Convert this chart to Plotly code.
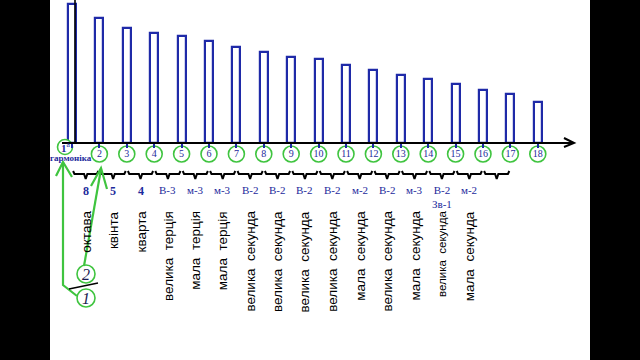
import plotly.graph_objects as go

# ---------------- data ----------------
harmonics = list(range(1, 19))
amplitudes = [139, 125, 115, 110, 107, 102, 96, 91, 86, 84, 78, 73, 68, 64, 59, 53, 49, 41]
circle_labels = [str(n) for n in harmonics]
interval_short = ["8", "5", "4", "В-3", "м-3", "м-3", "В-2", "В-2", "В-2", "В-2",
                  "м-2", "В-2", "м-3", "В-2<br>Зв-1", "м-2"]
interval_names = ["октава", "квінта", "кварта", "велика  терція", "мала  терція",
                  "мала  терція", "велика  секунда", "велика  секунда", "велика  секунда",
                  "велика  секунда", "мала  секунда", "велика  секунда", "мала  секунда",
                  "велика  секунда", "мала  секунда"]
n_braces = 16

# ---------------- geometry helpers ----------------
W, H = 640, 360
X0PX, STEP, BASE = 72.0, 27.4, 143.0


def X(px):
    return (px - X0PX) / STEP + 1


def Y(py):
    return BASE - py


def PX(px):
    return px / W


def PY(py):
    return 1 - py / H


BLUE = "#1f2aa8"
TBLUE = "#1c2a9c"
GREEN = "#3fc43f"

fig = go.Figure()

# bars
fig.add_trace(go.Bar(
    x=harmonics, y=amplitudes, width=0.29,
    marker=dict(color="white", line=dict(color=BLUE, width=2.2)),
    hoverinfo="skip", showlegend=False))

# braces
bx, by = [], []
for i in range(n_braces):
    n = harmonics[i]
    pts = [(n + 0.04, -28), (n + 0.09, -31), (n + 0.44, -31), (n + 0.5, -36),
           (n + 0.56, -31), (n + 0.91, -31), (n + 0.96, -28)]
    for a, b in pts:
        bx.append(a)
        by.append(b)
    bx.append(None)
    by.append(None)
fig.add_trace(go.Scatter(x=bx, y=by, mode="lines", line=dict(color="black", width=2),
                         hoverinfo="skip", showlegend=False))

# harmonic circles
fig.add_trace(go.Scatter(
    x=harmonics[1:], y=[Y(154)] * (len(harmonics) - 1), mode="markers+text",
    text=circle_labels[1:], textposition="middle center",
    textfont=dict(family="Liberation Serif", size=10, color=TBLUE),
    marker=dict(size=16, color="white", line=dict(color=GREEN, width=1.6)),
    hoverinfo="skip", showlegend=False))
fig.add_trace(go.Scatter(
    x=[X(65)], y=[Y(147)], mode="markers",
    marker=dict(size=15, color="white", line=dict(color=GREEN, width=1.6)),
    hoverinfo="skip", showlegend=False))

ann = []
ann.append(dict(x=X(66), y=Y(147), text="<b>1</b><sup>а</sup>", showarrow=False,
                xanchor="center", yanchor="middle",
                font=dict(family="Liberation Serif", size=11, color=TBLUE)))
# "гармоніка"
ann.append(dict(x=X(71), y=Y(158), text="<b>гармоніка</b>", showarrow=False,
                xanchor="center", yanchor="middle",
                font=dict(family="Liberation Serif", size=9, color=TBLUE)))

# interval short labels and names
for i, (s, name) in enumerate(zip(interval_short, interval_names)):
    xm = harmonics[i] + 0.5
    big = s in ("8", "5", "4")
    ann.append(dict(x=xm, y=Y(182), text=("<b>%s</b>" % s) if big else s, showarrow=False,
                    xanchor="center", yanchor="top",
                    font=dict(family="Liberation Serif", size=12 if big else 11, color=TBLUE)))
    ann.append(dict(x=xm, y=Y(209), text=name.replace(" ", "\u00a0"), showarrow=False,
                    textangle=-90, xanchor="center", yanchor="top",
                    font=dict(family="Liberation Sans", size=11.5 if i == 13 else 13.5,
                              color="black")))

# fraction 2/1
for t, cy in (("2", 274), ("1", 298)):
    ann.append(dict(x=PX(86), y=PY(cy), xref="paper", yref="paper", text="<i>%s</i>" % t,
                    xanchor="center", yanchor="middle",
                    showarrow=False, font=dict(family="Liberation Serif", size=16,
                                               color="#1a1a50")))

shapes = []
# axis line
shapes.append(dict(type="line", x0=X(62), x1=X(574), y0=0, y1=0,
                   line=dict(color="black", width=2)))
shapes.append(dict(type="path", path="M %f,%f L %f,%f L %f,%f" % (
    X(564), Y(138), X(574), Y(143), X(564), Y(147)),
    line=dict(color="black", width=2)))
# vertical axis
shapes.append(dict(type="line", x0=X(75), x1=X(75), y0=0, y1=Y(0),
                   line=dict(color="black", width=1.6)))


def ppath(pts):
    return "M " + " L ".join("%f,%f" % (PX(a), PY(b)) for a, b in pts)


gl = dict(color=GREEN, width=2.2)
shapes.append(dict(type="path", xref="paper", yref="paper",
                   path=ppath([(63, 162), (63, 285), (77, 296)]), line=gl))
shapes.append(dict(type="path", xref="paper", yref="paper",
                   path=ppath([(56, 176), (63, 162), (72, 177)]), line=gl))
shapes.append(dict(type="path", xref="paper", yref="paper",
                   path=ppath([(84, 266), (101, 169)]), line=gl))
shapes.append(dict(type="path", xref="paper", yref="paper",
                   path=ppath([(91, 186), (101, 168), (107, 189)]), line=gl))
for cy in (274, 298):
    shapes.append(dict(type="circle", xref="paper", yref="paper",
                       x0=PX(77), x1=PX(95), y0=PY(cy + 9), y1=PY(cy - 9),
                       line=dict(color=GREEN, width=1.6)))
shapes.append(dict(type="line", xref="paper", yref="paper",
                   x0=PX(69), y0=PY(289), x1=PX(98), y1=PY(283),
                   line=dict(color="black", width=1.4)))

# black borders
shapes.append(dict(type="rect", xref="paper", yref="paper", x0=0, x1=PX(50), y0=0, y1=1,
                   fillcolor="black", line=dict(width=0), layer="above"))
shapes.append(dict(type="rect", xref="paper", yref="paper", x0=PX(590), x1=1, y0=0, y1=1,
                   fillcolor="black", line=dict(width=0), layer="above"))

fig.update_layout(
    width=W, height=H, margin=dict(l=0, r=0, t=0, b=0),
    paper_bgcolor="white", plot_bgcolor="white",
    annotations=ann, shapes=shapes, bargap=0,
    xaxis=dict(range=[X(0), X(W)], showgrid=False, zeroline=False, showline=False,
               tickvals=harmonics, ticks="outside", ticklen=4, tickwidth=2,
               tickcolor=BLUE, showticklabels=False, anchor="free",
               position=(0 - Y(H)) / (Y(0) - Y(H)), fixedrange=True),
    yaxis=dict(range=[Y(H), Y(0)], showgrid=False, zeroline=False, showline=False,
               showticklabels=False, ticks="", fixedrange=True),
)

fig.write_html("out.html", config={"displayModeBar": False},
               post_script="document.body.style.margin='0';document.body.style.overflow='hidden';")
